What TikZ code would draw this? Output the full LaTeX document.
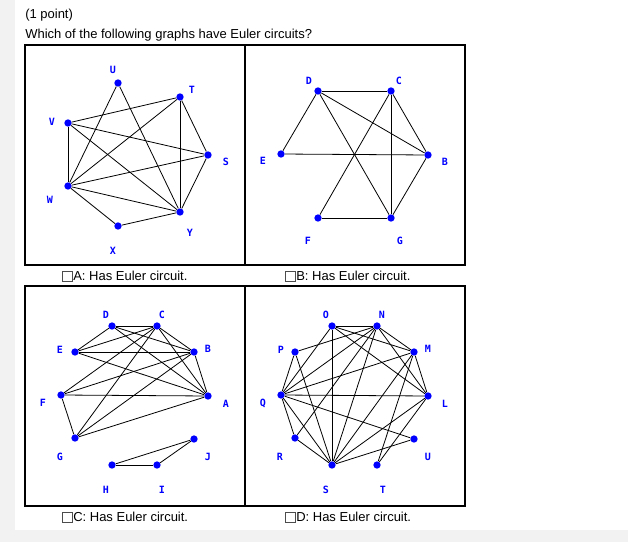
\documentclass[tikz,border=0pt]{standalone}
\usepackage{fontspec}
\setmainfont{Liberation Sans}
\newfontfamily\lblfont{DejaVu Sans Mono}
\begin{document}
\begin{tikzpicture}[x=0.75pt,y=-0.75pt,
  v/.style={circle,fill=blue,inner sep=0pt,minimum size=5.5pt},
  lb/.style={text=blue,font=\lblfont\bfseries\fontsize{7.5}{8}\selectfont,inner sep=0pt},
  e/.style={black,line width=0.6pt},
  panel/.style={draw=black,line width=0.8pt},
  captxt/.style={anchor=west,font=\fontsize{9.75}{11}\selectfont,inner sep=0pt},
  cb/.style={draw=black!70,fill=white,minimum size=7.5pt,inner sep=0pt,line width=0.5pt}]
\useasboundingbox (0,0) rectangle (628,542);
\fill[black!5] (0,0) rectangle (628,542);
\fill[white] (15,0) rectangle (628,530);
\node[anchor=west,font=\fontsize{9.75}{11}\selectfont,inner sep=0pt] (t1) at (25,15) {(1 point)};
\node[anchor=west,font=\fontsize{9.75}{11}\selectfont,inner sep=0pt] (t2) at (25,35) {Which of the following graphs have Euler circuits?};
\draw[panel] (25,45) rectangle (245,265);
\draw[panel] (245,45) rectangle (465,265);
\draw[panel] (25,286) rectangle (245,506);
\draw[panel] (245,286) rectangle (465,506);
% captions
\node[cb] (c1) at (67,276) {}; \node[captxt] (cl1) at (73,276) {A: Has Euler circuit.};
\node[cb] (c2) at (290,276) {}; \node[captxt] (cl2) at (296,276) {B: Has Euler circuit.};
\node[cb] (c3) at (67,517) {}; \node[captxt] (cl3) at (73,517) {C: Has Euler circuit.};
\node[cb] (c4) at (290,517) {}; \node[captxt] (cl4) at (296,517) {D: Has Euler circuit.};
% Panel A
\node[v] (aU) at (118,83) {}; \node[v] (aT) at (180,97) {}; \node[v] (aV) at (68,123) {};
\node[v] (aS) at (208,155) {}; \node[v] (aW) at (68,186) {}; \node[v] (aY) at (180,212) {};
\node[v] (aX) at (118,226) {};
\node[lb] (laU) at (113,70) {U}; \node[lb] (laT) at (192,90) {T}; \node[lb] (laV) at (52,122) {V};
\node[lb] (laS) at (226,162) {S}; \node[lb] (laW) at (50,200) {W}; \node[lb] (laY) at (190,233) {Y};
\node[lb] (laX) at (113,251) {X};
\foreach \a/\b in {aU/aW,aU/aY,aT/aV,aT/aW,aT/aY,aT/aS,aV/aW,aV/aS,aV/aY,aW/aS,aW/aY,aW/aX,aX/aY,aS/aY}
  \draw[e] (\a) -- (\b);
% Panel B
\node[v] (bD) at (318,91) {}; \node[v] (bC) at (391,91) {}; \node[v] (bE) at (281,154) {};
\node[v] (bB) at (428,155) {}; \node[v] (bF) at (318,218) {}; \node[v] (bG) at (391,218) {};
\node[lb] (lbD) at (309,81) {D}; \node[lb] (lbC) at (399,81) {C}; \node[lb] (lbE) at (263,161) {E};
\node[lb] (lbB) at (445,162) {B}; \node[lb] (lbF) at (308,241) {F}; \node[lb] (lbG) at (400,241) {G};
\foreach \a/\b in {bD/bC,bD/bE,bD/bB,bD/bG,bC/bF,bC/bG,bC/bB,bE/bB,bF/bG,bG/bB}
  \draw[e] (\a) -- (\b);
% Panel C
\node[v] (cD) at (112,326) {}; \node[v] (cC) at (157,326) {}; \node[v] (cE) at (75,352) {};
\node[v] (cB) at (194,352) {}; \node[v] (cF) at (61,395) {}; \node[v] (cA) at (208,396) {};
\node[v] (cG) at (75,438) {}; \node[v] (cJ) at (194,439) {}; \node[v] (cH) at (112,465) {};
\node[v] (cI) at (157,465) {};
\node[lb] (lcD) at (106,315) {D}; \node[lb] (lcC) at (162,315) {C}; \node[lb] (lcE) at (60,350) {E};
\node[lb] (lcB) at (208,349) {B}; \node[lb] (lcF) at (43,403) {F}; \node[lb] (lcA) at (226,404) {A};
\node[lb] (lcG) at (60,457) {G}; \node[lb] (lcJ) at (208,457) {J}; \node[lb] (lcH) at (106,490) {H};
\node[lb] (lcI) at (162,490) {I};
\foreach \a/\b in {cD/cC,cD/cE,cD/cB,cD/cA,cC/cE,cC/cB,cC/cF,cC/cG,cC/cA,cE/cB,cE/cA,cB/cF,cB/cG,cB/cA,cF/cA,cF/cG,cG/cA,cH/cI,cH/cJ,cI/cJ}
  \draw[e] (\a) -- (\b);
% Panel D
\node[v] (dO) at (332,326) {}; \node[v] (dN) at (377,326) {}; \node[v] (dP) at (295,352) {};
\node[v] (dM) at (414,352) {}; \node[v] (dQ) at (281,395) {}; \node[v] (dL) at (428,396) {};
\node[v] (dR) at (295,438) {}; \node[v] (dU) at (414,439) {}; \node[v] (dS) at (332,465) {};
\node[v] (dT) at (377,465) {};
\node[lb] (ldO) at (326,315) {O}; \node[lb] (ldN) at (382,315) {N}; \node[lb] (ldP) at (281,350) {P};
\node[lb] (ldM) at (428,349) {M}; \node[lb] (ldQ) at (263,403) {Q}; \node[lb] (ldL) at (445,404) {L};
\node[lb] (ldR) at (280,457) {R}; \node[lb] (ldU) at (428,457) {U}; \node[lb] (ldS) at (326,490) {S};
\node[lb] (ldT) at (383,490) {T};
\foreach \a/\b in {dO/dN,dO/dQ,dO/dS,dO/dM,dO/dL,dN/dP,dN/dQ,dN/dR,dN/dS,dN/dM,dN/dL,dM/dQ,dM/dL,dM/dS,dM/dT,dQ/dP,dQ/dR,dQ/dS,dQ/dL,dQ/dU,dP/dS,dL/dS,dL/dT,dS/dU,dS/dR}
  \draw[e] (\a) -- (\b);
\end{tikzpicture}
\end{document}
